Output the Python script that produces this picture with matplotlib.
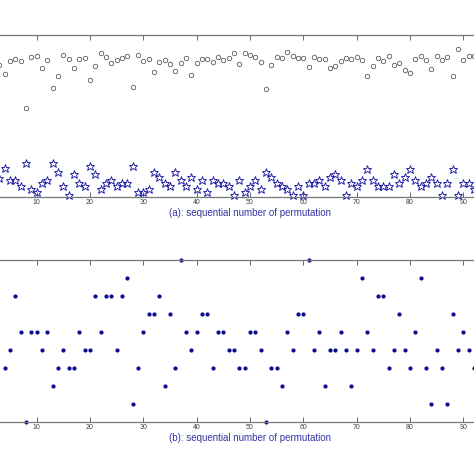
import matplotlib
matplotlib.use("Agg")
import matplotlib.pyplot as plt
import numpy as np

plt.rcParams['font.family'] = ['Liberation Sans', 'DejaVu Sans']

# ---- data ----
idx_top = list(range(3, 93))
# panel (a): circles (upper series), arbitrary units 0..1
circ_px = [195, 222, 183, 178, 183, 325, 172, 169, 204, 181, 264, 228, 165, 178, 204, 178, 173, 241, 197, 160,
           172, 189, 179, 175, 168, 260, 166, 184, 177, 217, 186, 179, 192, 212, 190, 174, 225, 188, 178, 178,
           186, 170, 179, 174, 160, 193, 160, 166, 171, 187, 268, 195, 170, 174, 157, 168, 173, 173, 201, 170,
           178, 176, 205, 197, 183, 175, 178, 172, 180, 227, 198, 175, 184, 167, 195, 189, 209, 219, 177, 167,
           179, 207, 169, 181, 172, 228, 147, 181, 169, 168]
star_px = [535, 505, 540, 540, 557, 489, 567, 576, 550, 541, 489, 515, 558, 584, 523, 549, 557, 497, 523, 567,
           549, 541, 557, 549, 549, 497, 575, 575, 567, 515, 532, 549, 558, 515, 540, 557, 532, 567, 541, 575,
           541, 549, 549, 557, 584, 541, 575, 557, 541, 567, 515, 532, 549, 557, 567, 584, 557, 584, 549, 549,
           541, 557, 532, 523, 541, 584, 549, 557, 541, 506, 541, 557, 557, 557, 523, 549, 532, 506, 541, 557,
           549, 532, 549, 584, 549, 506, 584, 549, 549, 567]
circles = [round((590 - v) / 486, 3) for v in circ_px]
stars = [round((590 - v) / 486, 3) for v in star_px]

# panel (b): discrete levels
idx_bot = list(range(4, 93))
levels = [3, 4, 7, 5, 0, 5, 5, 4, 5, 2, 3, 4, 3, 3, 5, 4, 4, 7, 5, 7,
          7, 4, 7, 8, 1, 3, 5, 6, 6, 7, 2, 6, 3, 9, 5, 4, 5, 6, 6, 3,
          5, 5, 4, 4, 3, 3, 5, 5, 4, 0, 3, 3, 2, 5, 4, 6, 6, 9, 4, 5,
          2, 4, 4, 5, 4, 2, 4, 8, 5, 4, 7, 7, 3, 4, 6, 4, 3, 5, 8, 3,
          1, 4, 3, 1, 6, 4, 5, 4, 3]

xticks = list(range(0, 101, 10))
xticklabels = ["" if t in (0, 100) else str(t) for t in xticks]
xlabels = ["(a): sequential number of permutation", "(b): sequential number of permutation"]

W = 474.0
fig = plt.figure(figsize=(4.74, 4.74), dpi=100)
left = -16.67 / W
width = 533.3 / W
ax1 = fig.add_axes([left, (W - 196.7) / W, width, 162.0 / W])
ax2 = fig.add_axes([left, (W - 421.6) / W, width, 161.9 / W])

ax1.plot(idx_top, circles, linestyle='none', marker='o', markersize=3.2,
         markerfacecolor='none', markeredgecolor='#5a5a5a', markeredgewidth=0.6, clip_on=False)
ax1.plot(idx_top, stars, linestyle='none', marker='*', markersize=6.3,
         markerfacecolor='none', markeredgecolor='#1c1ca8', markeredgewidth=0.65, clip_on=False)
ax1.set_ylim(0, 1)

ax2.plot(idx_bot, levels, linestyle='none', marker='o', markersize=2.0,
         color='#0a0a90', clip_on=False)
ax2.set_ylim(0, 9)

for ax, lab in zip((ax1, ax2), xlabels):
    ax.set_xlim(0, 100)
    ax.set_xticks(xticks)
    ax.set_xticklabels(xticklabels)
    ax.tick_params(axis='x', direction='in', top=True, length=3.5, width=0.7,
                   color='#666666', labelsize=5, labelcolor='#444444', pad=2)
    ax.set_yticks([])
    for s in ax.spines.values():
        s.set_color('#777777')
        s.set_linewidth(0.9)
    ax.set_xlabel(lab, fontsize=7.0, color='#3535a5', labelpad=1)

fig.savefig("out.png", dpi=100)
